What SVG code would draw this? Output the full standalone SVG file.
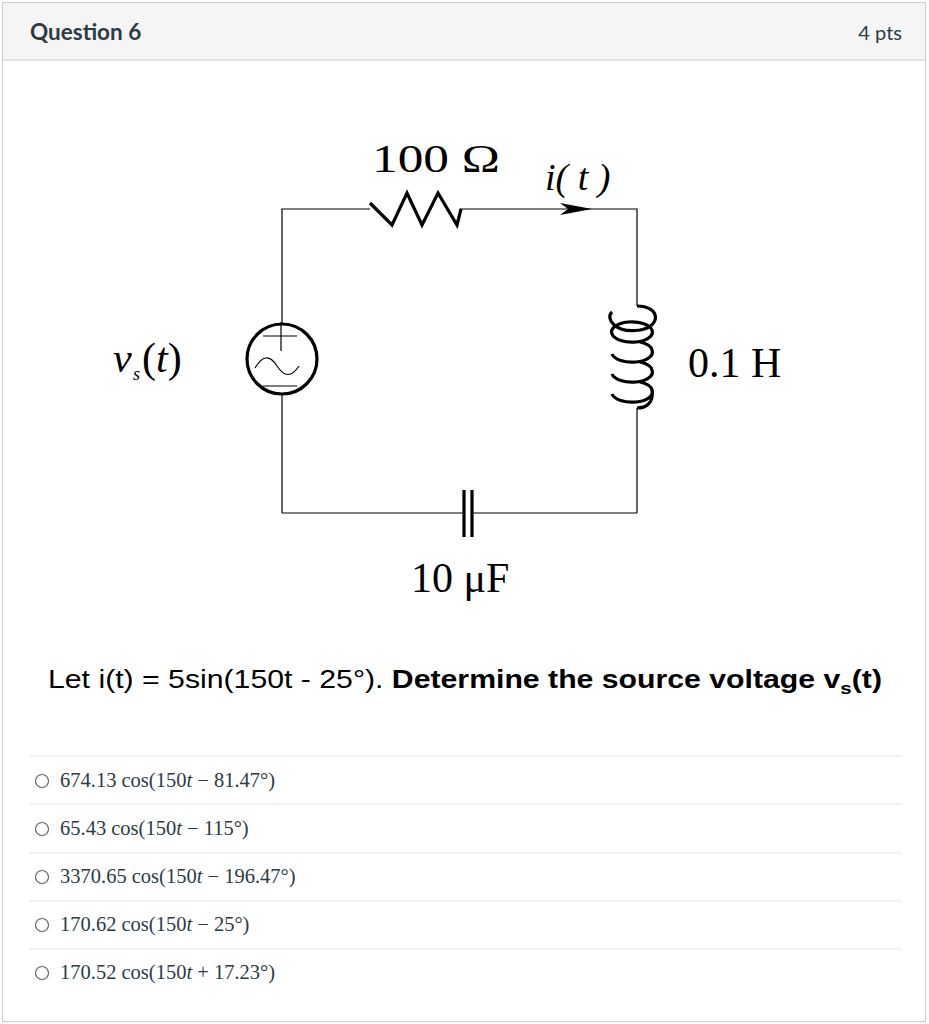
<svg xmlns="http://www.w3.org/2000/svg" width="929" height="1024" viewBox="0 0 929 1024">
<style>
.w{stroke:#000;stroke-width:1.2;fill:none}
.k{stroke:#000;stroke-width:3.2;fill:none}
.tm{font-family:"Liberation Serif",serif;fill:#000}
.opt{font-family:"Liberation Serif",serif;font-size:20.5px;fill:#2d3b45}
.sep{stroke:#e4e4e4;stroke-width:1}
.rad{fill:#fff;stroke:#666;stroke-width:1.2}
</style>
<rect x="2.5" y="2.5" width="923" height="1019" fill="#fff" stroke="#c7cdd1"/>
<rect x="3" y="3" width="922" height="57" fill="#f5f5f5"/>
<line x1="3" y1="60" x2="925" y2="60" stroke="#c7cdd1"/>
<text x="30" y="40" font-family="Lato,sans-serif" font-weight="bold" font-size="22.5" fill="#2d3b45">Question 6</text>
<text x="902" y="40" text-anchor="end" font-family="Lato,sans-serif" font-size="20" fill="#2d3b45">4 pts</text>
<g id="connectors">
<polyline class="w" points="370,209 282,209 282,324"/>
<line class="w" x1="282" y1="394" x2="282" y2="513"/>
<polyline class="w" points="460,209 637,209 637,306"/>
<line class="w" x1="637" y1="408" x2="637" y2="513"/>
<line class="w" x1="282" y1="513" x2="464" y2="513"/>
<line class="w" x1="472" y1="513" x2="637" y2="513"/>
<path d="M560,203 L592,209 L560,215 L568,209 Z" fill="#000"/>
</g>
<g id="resistor">
<polyline class="k" points="370,203 392,225 407,193 422,225 438,193 457,225 461,209" stroke-linejoin="miter"/>
<text class="tm" x="372" y="172" font-size="40" textLength="128" lengthAdjust="spacingAndGlyphs">100 Ω</text>
<text class="tm" x="545" y="190" font-size="38" font-style="italic">i( t )</text>
</g>
<g id="source">
<circle class="k" cx="282" cy="359" r="35"/>
<line class="w" x1="263" y1="336" x2="297" y2="336"/>
<line class="w" x1="281" y1="322" x2="281" y2="351"/>
<path class="w" d="M255,368 Q266,349 277,366 Q288,383 299,366"/>
<line class="w" x1="263" y1="386" x2="297" y2="386"/>
<text class="tm" x="113" y="372" font-size="42" font-style="italic">v</text>
<text class="tm" x="133" y="380" font-size="18" font-style="italic">s</text>
<text class="tm" x="142" y="372" font-size="42">(<tspan font-style="italic">t</tspan>)</text>
</g>
<g id="inductor">
<path class="k" d="M637,306 C660,306 662,326 640,330 M640,330 C615,334 605,318 612,312 M652,330 A20,10 0 1 1 612,334 A20,10 0 0 1 652,330 M652,350 A20,10 0 1 1 612,354 M652,350 A20,10 0 0 0 640,342 M652,370 A20,10 0 1 1 612,374 M652,370 A20,10 0 0 0 640,362 M652,390 A20,10 0 1 1 612,394 M652,390 A20,10 0 0 0 640,382 M652,390 C654,404 645,408 637,408"/>
<text class="tm" x="688" y="377" font-size="42">0.1 H</text>
</g>
<g id="capacitor">
<line class="k" x1="464" y1="490" x2="464" y2="537"/>
<line class="k" x1="472" y1="490" x2="472" y2="537"/>
<text class="tm" x="411" y="592" font-size="42">10 μF</text>
</g>
<text x="48" y="688" font-family="'Liberation Sans',sans-serif" font-size="25" fill="#000" textLength="834" lengthAdjust="spacingAndGlyphs">Let i(t) = 5sin(150t - 25°). <tspan font-weight="bold">Determine the source voltage v<tspan font-size="17" dy="6">s</tspan><tspan dy="-6">(t)</tspan></tspan></text>
<g id="options">
<line class="sep" x1="29" y1="756" x2="902" y2="756"/>
<line class="sep" x1="29" y1="804" x2="902" y2="804"/>
<line class="sep" x1="29" y1="853" x2="902" y2="853"/>
<line class="sep" x1="29" y1="901" x2="902" y2="901"/>
<line class="sep" x1="29" y1="949" x2="902" y2="949"/>
<circle class="rad" cx="42" cy="781" r="6.5"/><text class="opt" x="60" y="787">674.13 cos(150<tspan font-style="italic">t</tspan> − 81.47°)</text>
<circle class="rad" cx="42" cy="829" r="6.5"/><text class="opt" x="60" y="835">65.43 cos(150<tspan font-style="italic">t</tspan> − 115°)</text>
<circle class="rad" cx="42" cy="877" r="6.5"/><text class="opt" x="60" y="883">3370.65 cos(150<tspan font-style="italic">t</tspan> − 196.47°)</text>
<circle class="rad" cx="42" cy="925" r="6.5"/><text class="opt" x="60" y="931">170.62 cos(150<tspan font-style="italic">t</tspan> − 25°)</text>
<circle class="rad" cx="42" cy="973" r="6.5"/><text class="opt" x="60" y="979">170.52 cos(150<tspan font-style="italic">t</tspan> + 17.23°)</text>
</g>
</svg>
